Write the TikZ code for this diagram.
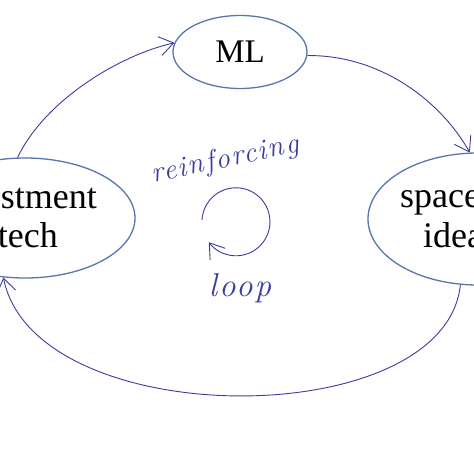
\documentclass[tikz,border=0pt]{standalone}
\usepackage{fontspec}
\setmainfont{Liberation Serif}
\newfontfamily\handfont{Latin Modern Roman}[LetterSpace=6]
\usetikzlibrary{arrows.meta,shapes.geometric}
\definecolor{ellc}{RGB}{88,118,172}
\definecolor{pen}{RGB}{58,60,160}
\tikzset{
 bubble/.style={ellipse, draw=ellc, line width=1.3pt, inner sep=0pt, font=\fontsize{33}{38}\selectfont},
 nodetext/.style={font=\fontsize{36}{40}\selectfont, text=black, inner sep=0pt},
 ink/.style={draw=pen, line width=0.9pt, -{Straight Barb[length=14pt,width=19pt,line width=0.9pt]}},
 hand/.style={text=pen, font=\handfont\itshape\fontsize{29}{32}\selectfont, inner sep=0pt}
}
\begin{document}
\begin{tikzpicture}[x=1pt,y=-1pt]
\useasboundingbox (0,0) rectangle (474,474);
\fill[white] (0,0) rectangle (474,474);
\clip (0,0) rectangle (474,474);
% nodes
\node[bubble, minimum width=134pt, minimum height=73pt] (ml) at (240,52) {ML};
\node[bubble, minimum width=220pt, minimum height=120pt] (inv) at (25,218) {};
\node[bubble, minimum width=220pt, minimum height=132pt] (spc) at (478,219) {};
\node[nodetext, anchor=base east] (inv1) at (97,208) {stment};
\node[nodetext, anchor=base east] (inv2) at (58,247) {tech};
\node[nodetext, anchor=base west] (spc1) at (400,207) {space};
\node[nodetext, anchor=base west] (spc2) at (423,247) {idea};
% connectors
\draw[ink] (inv.97) .. controls (45,100) and (120,55) .. (ml.172);
\draw[ink] (ml.357) .. controls (380,55) and (440,100) .. (spc.97);
\draw[ink] (spc.255) .. controls (445,434) and (35,434) .. (inv.250);
% reinforcing loop
\node[hand, rotate=12] (rf) at (225,160) {reinforcing};
\node[hand, font=\handfont\itshape\fontsize{33}{36}\selectfont] (lp) at (240,288) {loop};
\draw[ink] (202,220) arc[start angle=-177, end angle=143, radius=34];
\end{tikzpicture}
\end{document}
